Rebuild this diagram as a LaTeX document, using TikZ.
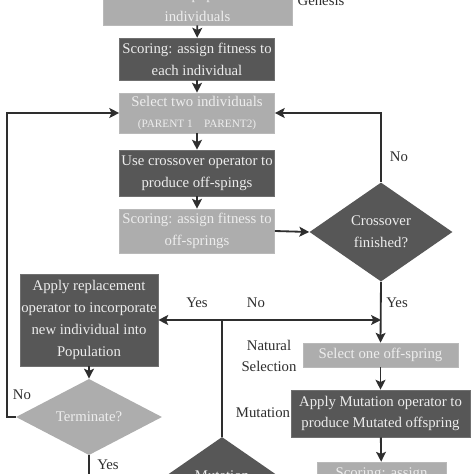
\documentclass[tikz,border=0pt]{standalone}
\usepackage{fontspec}
\setmainfont{Liberation Serif}
\usepackage{xcolor}
\usepackage{tikz}
\usetikzlibrary{positioning,arrows.meta,shapes.geometric,calc}

\definecolor{darkbox}{HTML}{575757}
\definecolor{lightbox}{HTML}{ADADAD}
\definecolor{boxtext}{HTML}{EDEDED}
\definecolor{wire}{HTML}{2E2E2E}

\tikzset{
  stepbox/.style={inner sep=0pt, align=center, text=boxtext,
    font=\fontsize{10.5}{15.5}\selectfont},
  darkstep/.style={stepbox, fill=darkbox, draw=darkbox!85!white},
  lightstep/.style={stepbox, fill=lightbox, draw=lightbox!85!white},
  decision/.style={stepbox, diamond},
  flowline/.style={draw=wire, line width=1.3pt},
  flowarrow/.style={flowline, -{Stealth[length=7pt,width=7pt,inset=1.5pt]}},
  note/.style={inner sep=0pt, align=center, text=wire,
    font=\fontsize{10.5}{15.5}\selectfont}
}

\begin{document}
\begin{tikzpicture}[x=0.025cm, y=-0.025cm]
  \useasboundingbox (0,0) rectangle (474,474);
  \clip (0,0) rectangle (474,474);

  % main column
  \node[lightstep, minimum width=4.725cm, minimum height=1cm] (init) at (197.5,5)
    {Generate a population of\\individuals};
  \node[note] (genesis) at (321,1) {Genesis};
  \node[darkstep, minimum width=3.875cm, minimum height=1.05cm] (scoreall) at (197,59)
    {Scoring: assign fitness to\\each individual};
  \node[lightstep, minimum width=3.875cm, minimum height=1cm] (selecttwo) at (197,113)
    {Select two individuals\\{\fontsize{8}{10}\selectfont (PARENT 1\quad PARENT2)}};
  \node[darkstep, minimum width=3.875cm, minimum height=1.15cm] (crossover) at (197,173)
    {Use crossover operator to\\produce off-spings};
  \node[lightstep, minimum width=3.875cm, minimum height=1.1cm] (scoreoff) at (197,231)
    {Scoring: assign fitness to\\off-springs};
  \node[decision, fill=darkbox, minimum width=3.575cm, minimum height=2.475cm] (crossdone) at (381,232)
    {Crossover\\finished?};

  % right column
  \node[lightstep, minimum width=3.875cm, minimum height=0.6cm] (selectone) at (380.5,355)
    {Select one off-spring};
  \node[darkstep, minimum width=4.475cm, minimum height=1.175cm] (mutate) at (380.5,413.5)
    {Apply Mutation operator to\\produce Mutated offspring};
  \node[lightstep, minimum width=3.225cm, minimum height=1.15cm] (scoremut) at (381.5,485)
    {Scoring: assign\\fitness to offspring};
  \node[note] (natsel) at (269,356) {Natural\\Selection};
  \node[note] (mutlabel) at (263,413) {Mutation};

  % left column
  \node[darkstep, minimum width=3.45cm, minimum height=2.3cm] (replace) at (89,320)
    {Apply replacement\\operator to incorporate\\new individual into\\Population};
  \node[decision, fill=lightbox, minimum width=3.65cm, minimum height=1.3cm] (terminate) at (89,417)
    {Terminate?};
  \node[decision, fill=darkbox, minimum width=3.575cm, minimum height=2.475cm] (mutdone) at (222,486.5)
    {Mutation\\finished?};

  \coordinate (split) at (222,320);
  \coordinate (merge) at (381,320);
  \coordinate (loopleft) at (7,417);
  \coordinate (termout) at (89,490);

  % connectors
  \draw[flowarrow] (init) -- (scoreall);
  \draw[flowarrow] (scoreall) -- (selecttwo);
  \draw[flowarrow] (selecttwo) -- (crossover);
  \draw[flowarrow] (crossover) -- (scoreoff);
  \draw[flowarrow] (scoreoff.east) -- (crossdone.west);
  \draw[flowarrow] (crossdone.north) |- (selecttwo.east);
  \draw[flowarrow] (crossdone.south) -- (selectone.north);
  \draw[flowarrow] (selectone) -- (mutate);
  \draw[flowarrow] (mutate) -- (scoremut);
  \draw[flowline] (mutdone.north) -- (split);
  \draw[flowarrow] (split) -- (replace.east |- split);
  \draw[flowarrow] (split) -- (merge);
  \draw[flowarrow] (replace) -- (terminate);
  \draw[flowarrow] (terminate.west) -- (loopleft) |- (selecttwo.west);
  \draw[flowline] (terminate.south) -- (termout);

  % branch labels
  \node[note] (crossno) at (399,157) {No};
  \node[note] (crossyes) at (397,303) {Yes};
  \node[note] (mutyes) at (197,303) {Yes};
  \node[note] (mutno) at (256,303) {No};
  \node[note] (termno) at (22,395) {No};
  \node[note] (termyes) at (108,465) {Yes};
\end{tikzpicture}
\end{document}
